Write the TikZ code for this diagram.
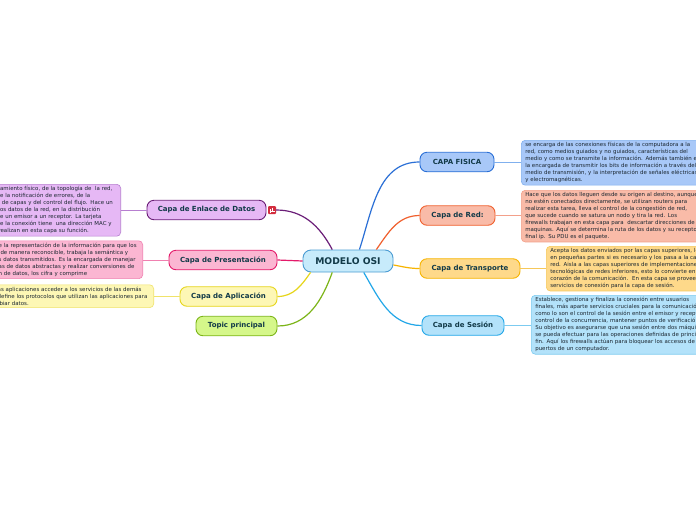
\documentclass[tikz,border=0pt]{standalone}
\usepackage{fontspec}
\usetikzlibrary{calc}
\setmainfont{DejaVu Sans}
\definecolor{lbl}{HTML}{123A48}
\definecolor{txt}{HTML}{1A2630}
\definecolor{mainF}{HTML}{C7EBFB}\definecolor{mainD}{HTML}{4B9CD3}
\definecolor{fisF}{HTML}{A8C8F8}\definecolor{fisD}{HTML}{2A6FD6}\definecolor{fisL}{HTML}{80B0EE}
\definecolor{redF}{HTML}{F9BBA8}\definecolor{redD}{HTML}{F0602E}\definecolor{redL}{HTML}{F3A08A}
\definecolor{traF}{HTML}{FED98A}\definecolor{traD}{HTML}{F7B400}\definecolor{traL}{HTML}{F6C85A}
\definecolor{sesF}{HTML}{B3E2FA}\definecolor{sesD}{HTML}{22A7E8}\definecolor{sesL}{HTML}{7CCBF0}
\definecolor{enlF}{HTML}{E6B8F5}\definecolor{enlD}{HTML}{6B1E78}\definecolor{enlL}{HTML}{B77FD0}
\definecolor{preF}{HTML}{FBB6D2}\definecolor{preD}{HTML}{E41A6A}\definecolor{preL}{HTML}{F080B0}
\definecolor{aplF}{HTML}{FDF7B5}\definecolor{aplD}{HTML}{E6D51A}\definecolor{aplL}{HTML}{F0E36A}
\definecolor{topF}{HTML}{D5F78A}\definecolor{topD}{HTML}{7CB518}
\definecolor{iconR}{HTML}{D32D3E}
\tikzset{
  branch/.style={draw=#1D, fill=#1F, line width=0.9pt, rounded corners=7pt,
    minimum height=19.5pt, inner sep=0pt, text=lbl,
    font=\bfseries\fontsize{7}{8}\selectfont},
  mainbox/.style={draw=mainD, fill=mainF, line width=0.9pt, rounded corners=8pt,
    minimum width=90pt, minimum height=22pt, inner sep=0pt, text=lbl,
    font=\bfseries\fontsize{9.2}{10}\selectfont},
  leaf/.style={draw=#1L, fill=#1F, line width=0.6pt, rounded corners=4pt,
    inner xsep=4pt, inner ysep=2.2pt, text=txt, align=left,
    font=\fontsize{5.45}{7}\selectfont},
  conn/.style={draw=#1, line width=1.2pt},
  thin/.style={draw=#1, line width=0.7pt},
  iconbox/.style={fill=iconR, rounded corners=1pt, minimum width=8pt, minimum height=8pt, inner sep=0pt}
}
\begin{document}
\begin{tikzpicture}[x=1pt,y=-1pt]
\useasboundingbox (0,0) rectangle (696,520);
\fill[white] (0,0) rectangle (696,520);
\clip (0,0) rectangle (696,520);

% central
\node[mainbox] (main) at (348,261) {MODELO OSI};

% right branches
\node[branch=fis, minimum width=74pt] (fis) at (457,162) {CAPA FISICA};
\node[branch=red, minimum width=75pt] (red) at (457.5,215.5) {Capa de Red:};
\node[branch=tra, minimum width=100pt] (tra) at (470,268.5) {Capa de Transporte};
\node[branch=ses, minimum width=82pt] (ses) at (463,325.5) {Capa de Sesión};

% left branches
\node[branch=enl, minimum width=119pt] (enl) at (206.5,210) {Capa de Enlace de Datos};
\node[branch=pre, minimum width=108pt] (pre) at (223,260) {Capa de Presentación};
\node[branch=apl, minimum width=97pt] (apl) at (228.5,296.5) {Capa de Aplicación};
\node[branch=top, minimum width=81pt] (top) at (236.5,326) {Topic principal};

% icon
\node[iconbox] (ic) at (272,210) {};
\draw[white, line width=0.7pt] ($(ic.center)+(-2.5,1)$) -- ($(ic.center)+(2.5,1)$);
\draw[white, line width=0.7pt] ($(ic.center)+(0.5,-2.5)$) -- ($(ic.center)+(0.5,1)$);
\draw[white, line width=0.7pt] ($(ic.center)+(-1.5,-1)$) -- ($(ic.center)+(-1.5,2.5)$);

% right leaves
\node[leaf=fis, text width=230pt, anchor=north west] (lfis) at (521,140) {%
se encarga de las conexiones físicas de la computadora a la\\
red, como medios guiados y no guiados, características del\\
medio y como se transmite la información. Además también es\\
la encargada de transmitir los bits de información a través del\\
medio de transmisión, y la interpretación de señales eléctricas\\
y electromagnéticas.};
\node[leaf=red, text width=230pt, anchor=north west] (lred) at (521,190) {%
Hace que los datos lleguen desde su origen al destino, aunque\\
no estén conectados directamente, se utilizan routers para\\
realizar esta tarea, lleva el control de la congestión de red,\\
que sucede cuando se satura un nodo y tira la red. Los\\
firewalls trabajan en esta capa para\ \ descartar direcciones de\\
maquinas. Aquí se determina la ruta de los datos y su receptor\\
final ip. Su PDU es el paquete.};
\node[leaf=tra, text width=230pt, anchor=north west] (ltra) at (546,246) {%
Acepta los datos enviados por las capas superiores, los divide\\
en pequeñas partes si es necesario y los pasa a la capa de\\
red. Aisla a las capas superiores de implementaciones\\
tecnológicas de redes inferiores, esto lo convierte en el\\
corazón de la comunicación.\ \ En esta capa se proveen\\
servicios de conexión para la capa de sesión.};
\node[leaf=ses, text width=230pt, anchor=north west] (lses) at (531,295) {%
Establece, gestiona y finaliza la conexión entre usuarios\\
finales, más aparte servicios cruciales para la comunicación,\\
como lo son el control de la sesión entre el emisor y receptor,\\
control de la concurrencia, mantener puntos de verificación.\\
Su objetivo es asegurarse que una sesión entre dos máquinas\\
se pueda efectuar para las operaciones definidas de principio a\\
fin. Aquí los firewalls actúan para bloquear los accesos de los\\
puertos de un computador.};

% left leaves
\node[leaf=enl, text width=120pt, anchor=north east] (lenl) at (121,184) {%
namiento físico, de la topología de\ \ la red,\\
de la notificación de errores, de la\\
a de capas y del control del flujo. Hace un\\
\ los datos de la red, en la distribución\\
de un emisor a un receptor. La tarjeta\\
de la conexión tiene\ \ una dirección MAC y\\
\ realizan en esta capa su función.};
\node[leaf=pre, text width=140pt, anchor=north east] (lpre) at (143,240.5) {%
e la representación de la información para que los\\
\ de manera reconocible, trabaja la semántica y\\
s datos transmitidos. Es la encargada de manejar\\
as de datos abstractas y realizar conversiones de\\
n de datos, los cifra y comprime};
\node[leaf=apl, text width=152pt, anchor=north east] (lapl) at (154,284.5) {%
as aplicaciones acceder a los servicios de las demás\\
define los protocolos que utilizan las aplicaciones para\\
\ biar datos.};

% main connectors
\draw[conn=fisD] (main.45) to[out=72,in=180] (fis.west);
\draw[conn=redD] (main.22) to[out=55,in=180] (red.west);
\draw[conn=traD] (main.-5) to[out=-10,in=180] (tra.west);
\draw[conn=sesD] (main.-36) to[out=-60,in=180] (ses.west);
\draw[conn=enlD] (main.144) to[out=118,in=0] (ic.east);
\draw[conn=preD] (main.west) -- (pre.east);
\draw[conn=aplD] (main.197) to[out=235,in=0] (apl.east);
\draw[conn=topD] (main.216) to[out=250,in=0] (top.east);

% leaf connectors
\draw[thin=fisL] (fis.east) -- (fis.east -| lfis.west);
\draw[thin=redL] (red.east) -- (red.east -| lred.west);
\draw[thin=traL] (tra.east) -- (tra.east -| ltra.west);
\draw[thin=sesL] (ses.east) -- (ses.east -| lses.west);
\draw[thin=enlL] (enl.west) -- (enl.west -| lenl.east);
\draw[thin=preL] (pre.west) -- (pre.west -| lpre.east);
\draw[thin=aplL] (apl.west) -- (apl.west -| lapl.east);
\end{tikzpicture}
\end{document}
